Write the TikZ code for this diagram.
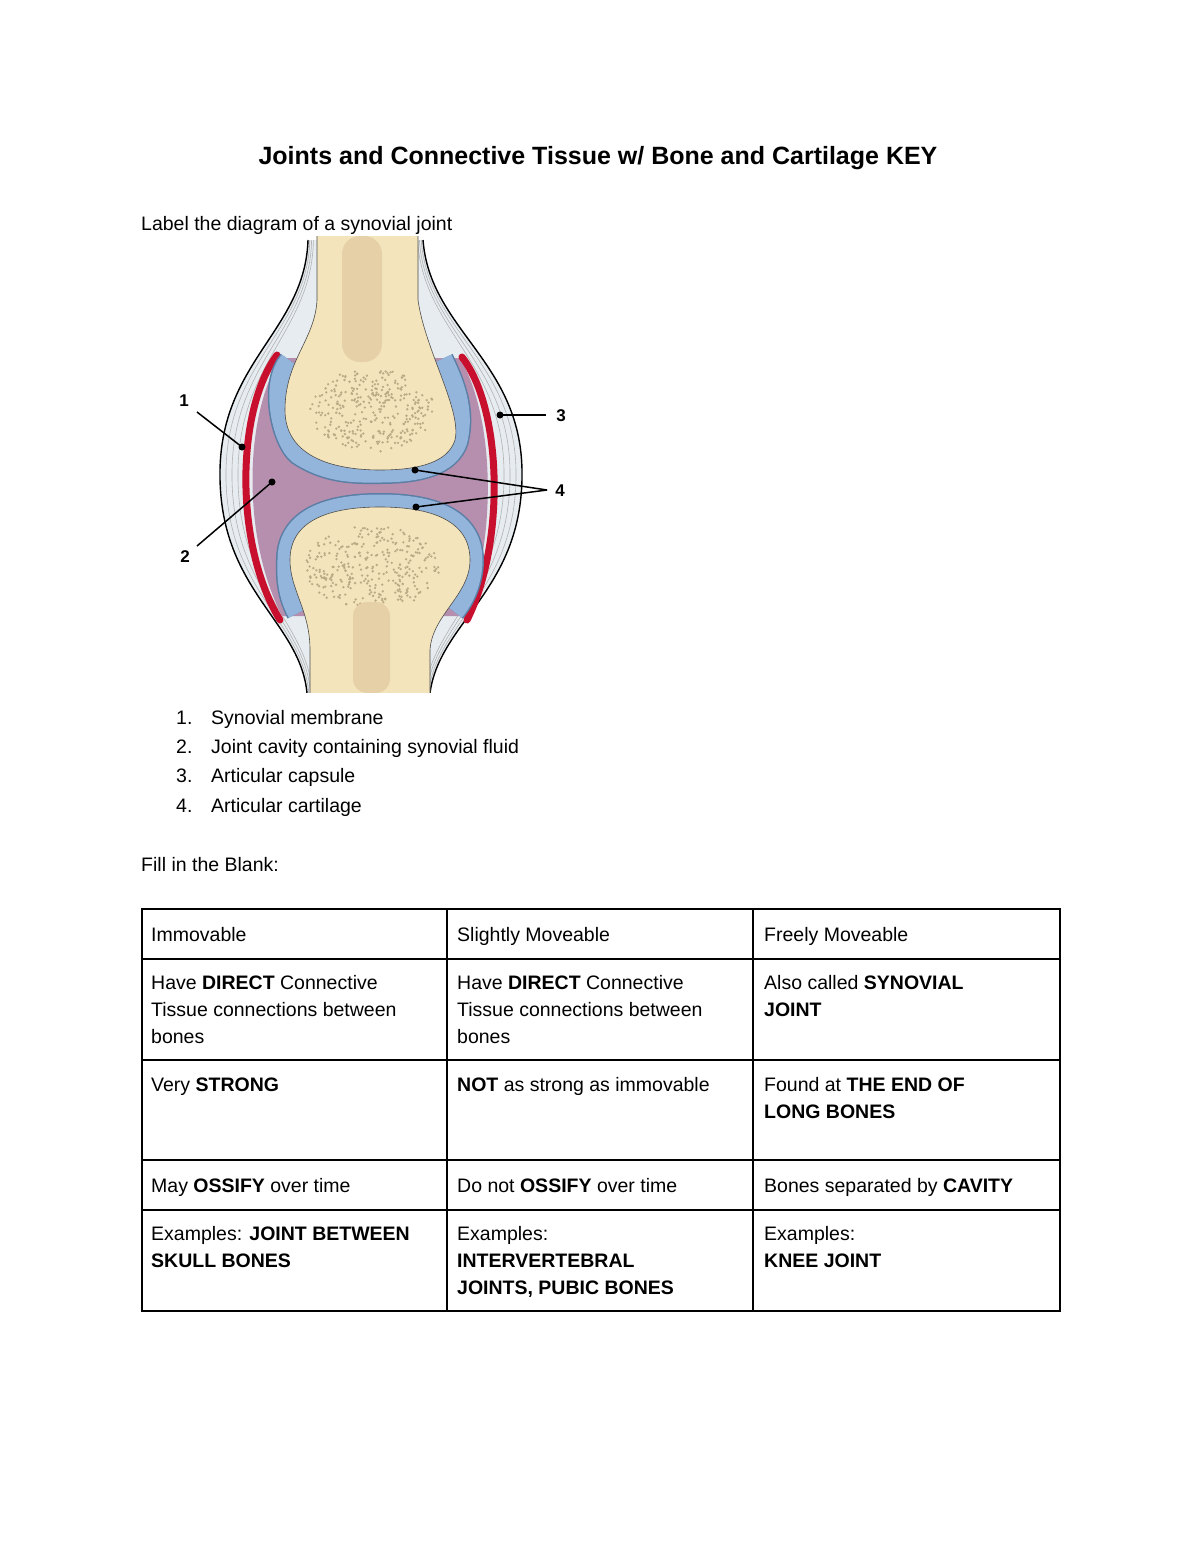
\documentclass[tikz,border=0pt]{standalone}
\usepackage{fontspec}
\setmainfont{Liberation Sans}
\begin{document}
\begin{tikzpicture}[x=1pt,y=-1pt,
  txt/.style={anchor=base west,inner sep=0pt,font=\fontsize{19.5}{24}\selectfont},
  num/.style={inner sep=0pt,font=\fontsize{17}{20}\selectfont\bfseries},
  lead/.style={draw=black,line width=1.5pt},
  tbl/.style={line width=2pt},
  bone/.style={fill=bonefill,draw=black!70,line width=0.6pt}]
\definecolor{bonefill}{HTML}{F3E4BB}
\definecolor{marrow}{HTML}{E6D0A8}
\definecolor{cart}{HTML}{93B5DC}
\definecolor{cartdark}{HTML}{5A7EA4}
\definecolor{purp}{HTML}{B68EAE}
\definecolor{redm}{HTML}{C8102E}
\definecolor{caps}{HTML}{E6ECF0}
\definecolor{spong}{HTML}{BCA985}
\useasboundingbox[fill=white] (0,0) rectangle (1200,1553);
% title
\node[inner sep=0pt,font=\fontsize{25}{30}\selectfont\bfseries] (title) at (598,158) {Joints and Connective Tissue w/ Bone and Cartilage KEY};
\node[txt] (lab) at (141,230) {Label the diagram of a synovial joint};
% capsule
\fill[caps] (308,240) .. controls (305,330) and (222,360) .. (220,470) .. controls (218,590) and (300,620) .. (307,693) -- (430,693) .. controls (440,620) and (524,590) .. (522,470) .. controls (520,360) and (430,330) .. (423,240) -- cycle;
\draw[black,line width=1.4pt] (308,240) .. controls (305,330) and (222,360) .. (220,470) .. controls (218,590) and (300,620) .. (307,693);
\draw[black,line width=1.4pt] (423,240) .. controls (430,330) and (520,360) .. (522,470) .. controls (524,590) and (440,620) .. (430,693);
\foreach \d in {6,12,18}{
 \draw[gray!60,line width=0.6pt] ({308+\d*0.3},240) .. controls ({305+\d*0.4},330) and ({222+\d},360) .. ({220+\d},470) .. controls ({218+\d},590) and ({300+\d*0.4},620) .. ({307+\d*0.3},693);
 \draw[gray!60,line width=0.6pt] ({423-\d*0.3},240) .. controls ({430-\d*0.4},330) and ({520-\d},360) .. ({522-\d},470) .. controls ({524-\d},590) and ({440-\d*0.4},620) .. ({430-\d*0.3},693);
}
% cavity
\fill[purp] (280,358) .. controls (243,420) and (243,540) .. (282,616) -- (466,616) .. controls (496,540) and (496,420) .. (460,358) -- cycle;
\draw[redm,line width=7pt,line cap=round] (277,355) .. controls (236,410) and (234,545) .. (280,620);
\draw[redm,line width=7pt,line cap=round] (462,357) .. controls (503,410) and (505,545) .. (467,620);
% upper bone cartilage
\draw[cartdark,line width=28pt] (292,362) .. controls (272,385) and (285,440) .. (300,452) .. controls (330,472) and (360,470) .. (380,470) .. controls (420,470) and (448,462) .. (455,440) .. controls (462,410) and (452,385) .. (440,360);
\draw[cart,line width=25pt] (292,362) .. controls (272,385) and (285,440) .. (300,452) .. controls (330,472) and (360,470) .. (380,470) .. controls (420,470) and (448,462) .. (455,440) .. controls (462,410) and (452,385) .. (440,360);
\draw[bone] (317,236) -- (317,300) .. controls (315,340) and (285,360) .. (285,410) .. controls (285,455) and (330,470) .. (380,470) .. controls (420,470) and (448,462) .. (455,440) .. controls (462,410) and (425,350) .. (418,300) -- (418,236);
\fill[bonefill] (318,236) rectangle (417,300);
% lower bone cartilage
\draw[cartdark,line width=28pt] (300,612) .. controls (288,590) and (290,570) .. (290,560) .. controls (290,520) and (330,507) .. (380,507) .. controls (430,507) and (470,520) .. (470,560) .. controls (470,580) and (462,598) .. (452,610);
\draw[cart,line width=25pt] (300,612) .. controls (288,590) and (290,570) .. (290,560) .. controls (290,520) and (330,507) .. (380,507) .. controls (430,507) and (470,520) .. (470,560) .. controls (470,580) and (462,598) .. (452,610);
\draw[bone] (310,697) -- (310,650) .. controls (310,610) and (290,590) .. (290,560) .. controls (290,520) and (330,507) .. (380,507) .. controls (430,507) and (470,520) .. (470,560) .. controls (470,595) and (432,615) .. (430,650) -- (430,697);
\fill[bonefill] (311,650) rectangle (429,697);
% spongy bone
\pgfmathsetseed{7}
\foreach \i in {1,...,320}{
  \pgfmathsetmacro{\rr}{sqrt(rnd)}\pgfmathsetmacro{\tt}{360*rnd}
  \fill[spong] ({372+62*\rr*cos(\tt)},{410+42*\rr*sin(\tt)}) circle (1.3);
  \pgfmathsetmacro{\rs}{sqrt(rnd)}\pgfmathsetmacro{\ts}{360*rnd}
  \fill[spong] ({372+68*\rs*cos(\ts)},{568+42*\rs*sin(\ts)}) circle (1.3);
}
% marrow cavities
\fill[marrow,rounded corners=18pt] (342,236) -- (342,362) -- (382,362) -- (382,236) -- cycle;
\fill[marrow,rounded corners=14pt] (353,693) -- (353,602) -- (390,602) -- (390,693) -- cycle;
\fill[white] (0,693) rectangle (1200,700);
% labels
\node[num] (n1) at (184,401) {1};
\node[num] (n2) at (185,557) {2};
\node[num] (n3) at (561,416) {3};
\node[num] (n4) at (560,491) {4};
\coordinate (d1) at (242,447);
\coordinate (d2) at (272,482);
\coordinate (d3) at (500,415);
\coordinate (d4a) at (415,470);
\coordinate (d4b) at (416,507);
\draw[lead] (197,412) -- (d1);
\draw[lead] (197,546) -- (d2);
\draw[lead] (d3) -- (546,415);
\draw[lead] (d4a) -- (547,490);
\draw[lead] (d4b) -- (547,490);
\foreach \p in {d1,d2,d3,d4a,d4b} \fill (\p) circle (3.5);
% list
\node[txt] (l1n) at (176,724) {1.}; \node[txt] (l1) at (211,724) {Synovial membrane};
\node[txt] (l2n) at (176,753) {2.}; \node[txt] (l2) at (211,753) {Joint cavity containing synovial fluid};
\node[txt] (l3n) at (176,782) {3.}; \node[txt] (l3) at (211,782) {Articular capsule};
\node[txt] (l4n) at (176,812) {4.}; \node[txt] (l4) at (211,812) {Articular cartilage};
\node[txt] (fill) at (141,871) {Fill in the Blank:};
% table
\draw[tbl] (142,909) rectangle (1060,1311);
\foreach \yy in {959,1060,1160,1210} \draw[tbl] (142,\yy) -- (1060,\yy);
\foreach \xx in {447,753} \draw[tbl] (\xx,909) -- (\xx,1311);
\node[txt] (a1) at (151,941) {Immovable};
\node[txt] (b1) at (457,941) {Slightly Moveable};
\node[txt] (c1) at (764,941) {Freely Moveable};
\node[txt] (a2a) at (151,989) {Have \textbf{DIRECT} Connective};
\node[txt] (a2b) at (151,1016) {Tissue connections between};
\node[txt] (a2c) at (151,1043) {bones};
\node[txt] (b2a) at (457,989) {Have \textbf{DIRECT} Connective};
\node[txt] (b2b) at (457,1016) {Tissue connections between};
\node[txt] (b2c) at (457,1043) {bones};
\node[txt] (c2a) at (764,989) {Also called \textbf{SYNOVIAL}};
\node[txt] (c2b) at (764,1016) {\textbf{JOINT}};
\node[txt] (a3) at (151,1091) {Very \textbf{STRONG}};
\node[txt] (b3) at (457,1091) {\textbf{NOT} as strong as immovable};
\node[txt] (c3a) at (764,1091) {Found at \textbf{THE END OF}};
\node[txt] (c3b) at (764,1118) {\textbf{LONG BONES}};
\node[txt] (a4) at (151,1192) {May \textbf{OSSIFY} over time};
\node[txt] (b4) at (457,1192) {Do not \textbf{OSSIFY} over time};
\node[txt] (c4) at (764,1192) {Bones separated by \textbf{CAVITY}};
\node[txt] (a5a) at (151,1240) {Examples: \textbf{JOINT BETWEEN}};
\node[txt] (a5b) at (151,1267) {\textbf{SKULL BONES}};
\node[txt] (b5a) at (457,1240) {Examples:};
\node[txt] (b5b) at (457,1267) {\textbf{INTERVERTEBRAL}};
\node[txt] (b5c) at (457,1294) {\textbf{JOINTS, PUBIC BONES}};
\node[txt] (c5a) at (764,1240) {Examples:};
\node[txt] (c5b) at (764,1267) {\textbf{KNEE JOINT}};
\end{tikzpicture}
\end{document}
